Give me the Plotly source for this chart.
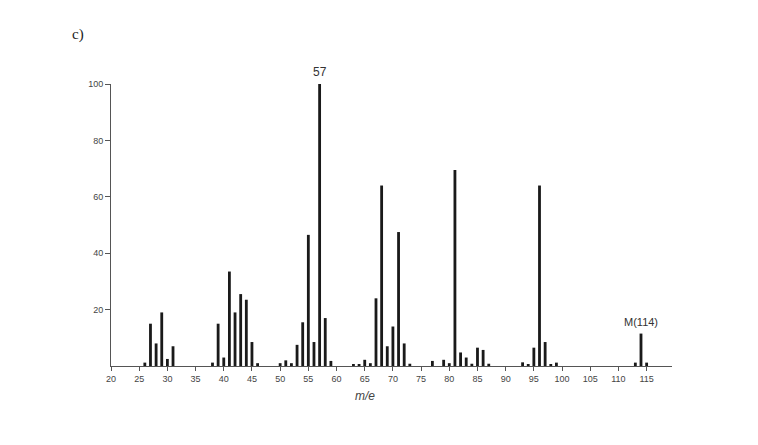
import plotly.graph_objects as go

mz = [26, 27, 28, 29, 30, 31, 38, 39, 40, 41, 42, 43, 44, 45, 46,
      50, 51, 52, 53, 54, 55, 56, 57, 58, 59, 63, 64, 65, 66, 67, 68, 69, 70, 71, 72, 73,
      77, 79, 80, 81, 82, 83, 84, 85, 86, 87, 93, 94, 95, 96, 97, 98, 99,
      113, 114, 115]
intensity = [1.2, 15, 8, 19, 2.5, 7, 1.2, 15, 3, 33.5, 19, 25.5, 23.5, 8.5, 1,
             1, 2, 1, 7.5, 15.5, 46.5, 8.5, 100, 17, 1.8, 0.6, 0.6, 2.2, 1, 24, 64, 7, 14, 47.5, 8, 0.8,
             1.8, 2.2, 1, 69.5, 4.8, 3, 0.8, 6.5, 5.7, 0.8, 1.3, 0.5, 6.5, 64, 8.5, 0.6, 1.2,
             1.2, 11.5, 1.2]
x_ticks = list(range(20, 120, 5))
y_ticks = [20, 40, 60, 80, 100]

fig = go.Figure()
fig.add_trace(go.Bar(x=mz, y=intensity, width=0.5,
                     marker=dict(color="#1a1a1a", line=dict(width=0))))

tick_font = dict(family="Liberation Sans, Arial, sans-serif", size=9, color="#444")
fig.update_layout(
    width=758, height=445,
    margin=dict(l=103, r=94, t=76, b=87),
    paper_bgcolor="white", plot_bgcolor="white",
    showlegend=False,
    xaxis=dict(range=[20, 119.5], tickvals=x_ticks, ticktext=[str(v) for v in x_ticks],
               showgrid=False, zeroline=False, showline=True, linecolor="#555", linewidth=1,
               ticks="outside", ticklen=4, tickcolor="#555", tickfont=tick_font),
    yaxis=dict(range=[0, 100], tickvals=y_ticks, ticktext=[str(v) for v in y_ticks],
               showgrid=False, zeroline=False, showline=True, linecolor="#555", linewidth=1,
               ticks="outside", ticklen=5, tickcolor="#555", tickfont=tick_font),
    annotations=[
        dict(x=57, y=100, xref="x", yref="y", text="57", showarrow=False,
             yanchor="bottom", yshift=3,
             font=dict(family="Liberation Sans, Arial, sans-serif", size=12, color="#333")),
        dict(x=114, y=11.5, xref="x", yref="y", text="M(114)", showarrow=False,
             yanchor="bottom", yshift=4,
             font=dict(family="Liberation Sans, Arial, sans-serif", size=11, color="#333")),
        dict(x=65, y=-0.106, xref="x", yref="paper", text="<i>m/e</i>", showarrow=False,
             yanchor="middle",
             font=dict(family="Liberation Sans, Arial, sans-serif", size=12, color="#444")),
        dict(x=-0.073, y=1.174, xref="paper", yref="paper", text="c)", showarrow=False,
             yanchor="middle",
             font=dict(family="Liberation Serif, Times New Roman, serif", size=15, color="#222")),
    ],
)

fig.write_html("out.html")
